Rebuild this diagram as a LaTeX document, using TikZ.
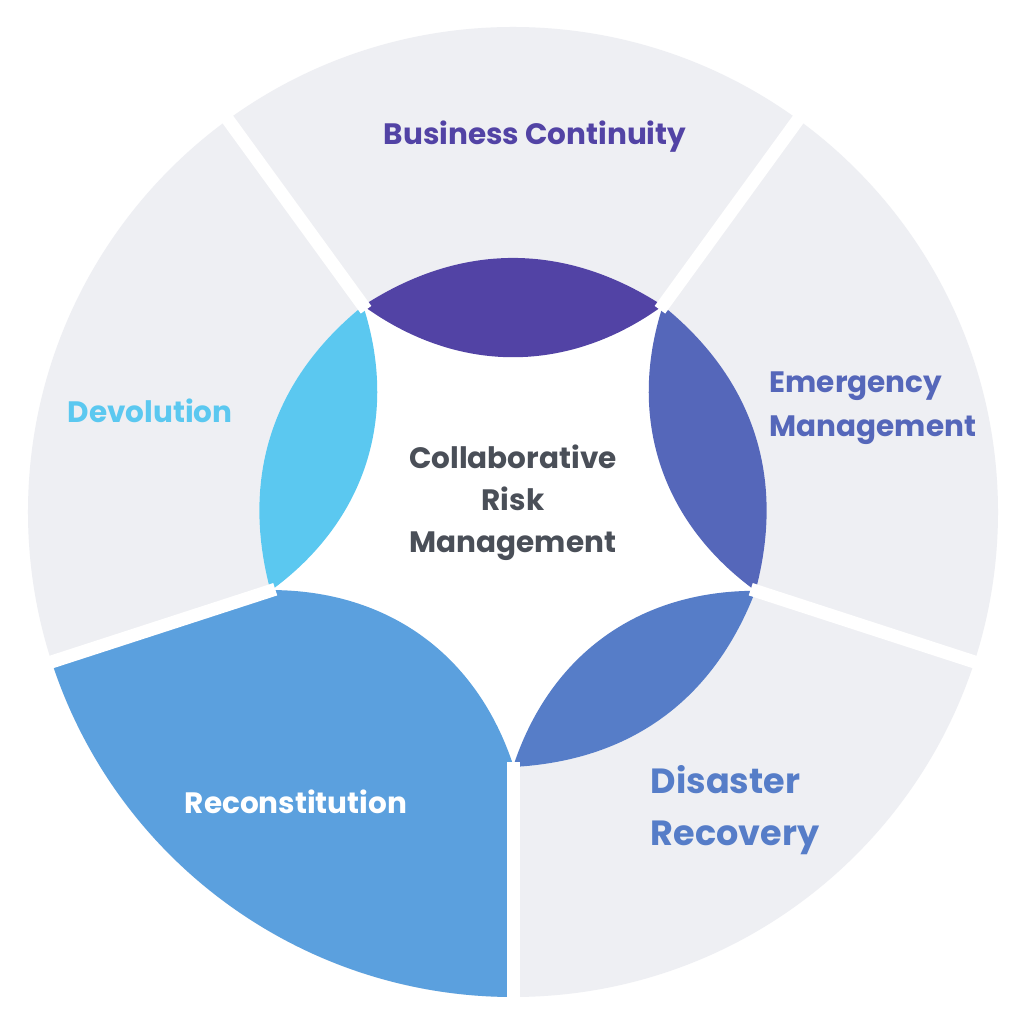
\documentclass[tikz,border=0pt]{standalone}
\usepackage{fontspec}
\setmainfont{Poppins}
\definecolor{segbg}{HTML}{EEEFF3}
\definecolor{cbiz}{HTML}{5243A5}
\definecolor{cemg}{HTML}{5567BA}
\definecolor{cdis}{HTML}{567DC8}
\definecolor{crec}{HTML}{5BA0DE}
\definecolor{cdev}{HTML}{5BC8F0}
\definecolor{ctxt}{HTML}{4A4F58}
\begin{document}
\begin{tikzpicture}[x=1pt,y=1pt,
  lbl/.style={font=\bfseries\fontsize{29.5}{44}\selectfont},
  gap/.style={white,line width=13pt}]
\useasboundingbox (-513,-512) rectangle (511,512);
\fill[white] (-513,-512) rectangle (511,512);
\fill[segbg] (0,0) circle (485);
\fill[crec] (0,0) -- (198:485) arc (198:270:485) -- cycle;
\fill[white] (126:255) to[bend left=33] (54:255) to[bend left=33] (-18:255)
  to[bend left=33] (-90:255) to[bend left=33] (198:255) to[bend left=33] (126:255) -- cycle;
\foreach \m/\c in {90/cbiz,18/cemg,-54/cdis,162/cdev}{
  \fill[\c] (\m+36:255) to[bend left=33] (\m-36:255) to[bend left=36] (\m+36:255) -- cycle;
}
\filldraw[crec,line width=1.5pt] (270:255) to[bend left=33] (198:255) to[bend left=36] (270:255) -- cycle;
\foreach \a in {54,126,198,270,-18}{
  \coordinate (gi\a) at (\a:250);
  \coordinate (go\a) at (\a:500);
  \draw[gap] (gi\a) -- (go\a);
}
\node[lbl,text=cbiz] (biz) at (22,375) {Business Continuity};
\node[lbl,text=cemg,align=left] (emg) at (360,104) {Emergency\\Management};
\node[lbl,text=cdev] (dev) at (-363,101) {Devolution};
\node[lbl,text=ctxt,align=center,font=\bfseries\fontsize{29.5}{42}\selectfont] (ctr) at (0,9) {Collaborative\\Risk\\Management};
\node[lbl,text=white] (rec) at (-217,-290) {Reconstitution};
\node[lbl,text=cdis,align=left,font=\bfseries\fontsize{35}{52}\selectfont] (dis) at (222,-298) {Disaster\\Recovery};
\end{tikzpicture}
\end{document}
